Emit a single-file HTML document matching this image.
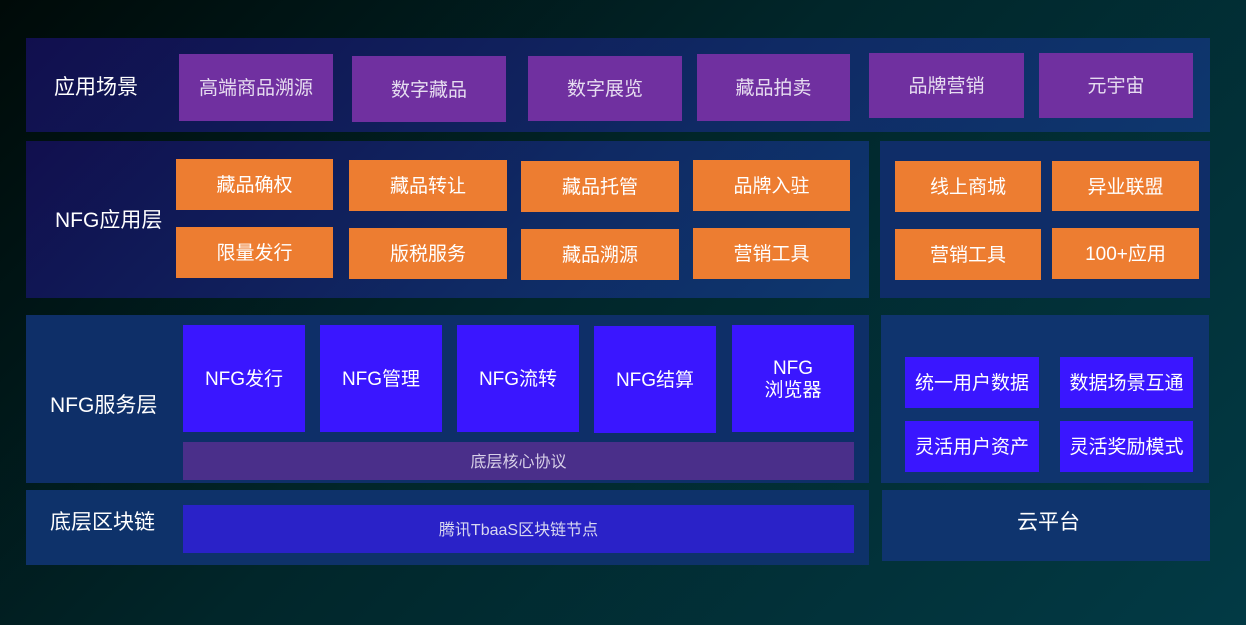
<!DOCTYPE html>
<html><head><meta charset="utf-8"><style>
*{margin:0;padding:0;box-sizing:border-box}
body{width:1246px;height:625px;overflow:hidden;position:relative;background:linear-gradient(135deg,#000a08 0%,#01262a 45%,#023a45 100%);font-family:"Liberation Sans","Noto Sans CJK SC",sans-serif;color:#fff}
.p{position:absolute;background:linear-gradient(135deg,#110f4e 0%,#0f2a64 60%,#0e376e 100%)}
.b{position:absolute;display:flex;align-items:center;justify-content:center;text-align:center;font-size:19px;line-height:22px;padding-top:3px}
.pu{background:#7030a0;color:#e6dcf0}
.or{background:#ed7d31}
.bl{background:#3a16ff}
.l{position:absolute;font-size:21px;white-space:nowrap}
</style></head><body>
<div class="p" style="left:26px;top:38px;width:1184px;height:94px"></div>
<div class="p" style="left:26px;top:141px;width:843px;height:157px"></div>
<div class="p" style="left:880px;top:141px;width:330px;height:157px;background:#0f2d68"></div>
<div class="p" style="left:26px;top:315px;width:843px;height:168px;background:#0e2f68"></div>
<div class="p" style="left:881px;top:315px;width:328px;height:168px;background:#0f346e"></div>
<div class="p" style="left:26px;top:490px;width:843px;height:75px;background:#0e326a"></div>
<div class="p" style="left:882px;top:490px;width:328px;height:71px;background:#0f346e"></div>

<div class="l" style="left:54px;top:71px">应用场景</div>
<div class="l" style="left:55px;top:204px">NFG应用层</div>
<div class="l" style="left:50px;top:389px">NFG服务层</div>
<div class="l" style="left:50px;top:506px">底层区块链</div>
<div class="l" style="left:1017px;top:506px">云平台</div>

<div class="b pu" style="left:179px;top:54px;width:154px;height:67px">高端商品溯源</div>
<div class="b pu" style="left:352px;top:56px;width:154px;height:66px">数字藏品</div>
<div class="b pu" style="left:528px;top:56px;width:154px;height:65px">数字展览</div>
<div class="b pu" style="left:697px;top:54px;width:153px;height:67px">藏品拍卖</div>
<div class="b pu" style="left:869px;top:53px;width:155px;height:65px">品牌营销</div>
<div class="b pu" style="left:1039px;top:53px;width:154px;height:65px">元宇宙</div>

<div class="b or" style="left:176px;top:159px;width:157px;height:51px">藏品确权</div>
<div class="b or" style="left:349px;top:160px;width:158px;height:51px">藏品转让</div>
<div class="b or" style="left:521px;top:161px;width:158px;height:51px">藏品托管</div>
<div class="b or" style="left:693px;top:160px;width:157px;height:51px">品牌入驻</div>
<div class="b or" style="left:176px;top:227px;width:157px;height:51px">限量发行</div>
<div class="b or" style="left:349px;top:228px;width:158px;height:51px">版税服务</div>
<div class="b or" style="left:521px;top:229px;width:158px;height:51px">藏品溯源</div>
<div class="b or" style="left:693px;top:228px;width:157px;height:51px">营销工具</div>
<div class="b or" style="left:895px;top:161px;width:146px;height:51px">线上商城</div>
<div class="b or" style="left:1052px;top:161px;width:147px;height:50px">异业联盟</div>
<div class="b or" style="left:895px;top:229px;width:146px;height:51px">营销工具</div>
<div class="b or" style="left:1052px;top:228px;width:147px;height:51px">100+应用</div>

<div class="b bl" style="left:183px;top:325px;width:122px;height:107px">NFG发行</div>
<div class="b bl" style="left:320px;top:325px;width:122px;height:107px">NFG管理</div>
<div class="b bl" style="left:457px;top:325px;width:122px;height:107px">NFG流转</div>
<div class="b bl" style="left:594px;top:326px;width:122px;height:107px">NFG结算</div>
<div class="b bl" style="left:732px;top:325px;width:122px;height:107px">NFG<br>浏览器</div>
<div class="b" style="left:183px;top:442px;width:671px;height:38px;background:#4a2f8a;font-size:16px;color:#d8d0e8">底层核心协议</div>
<div class="b" style="left:183px;top:505px;width:671px;height:48px;background:#2a22c8;font-size:16px;color:#d8d8f0">腾讯TbaaS区块链节点</div>

<div class="b bl" style="left:905px;top:357px;width:134px;height:51px">统一用户数据</div>
<div class="b bl" style="left:1060px;top:357px;width:133px;height:51px">数据场景互通</div>
<div class="b bl" style="left:905px;top:421px;width:134px;height:51px">灵活用户资产</div>
<div class="b bl" style="left:1060px;top:421px;width:133px;height:51px">灵活奖励模式</div>
</body></html>
